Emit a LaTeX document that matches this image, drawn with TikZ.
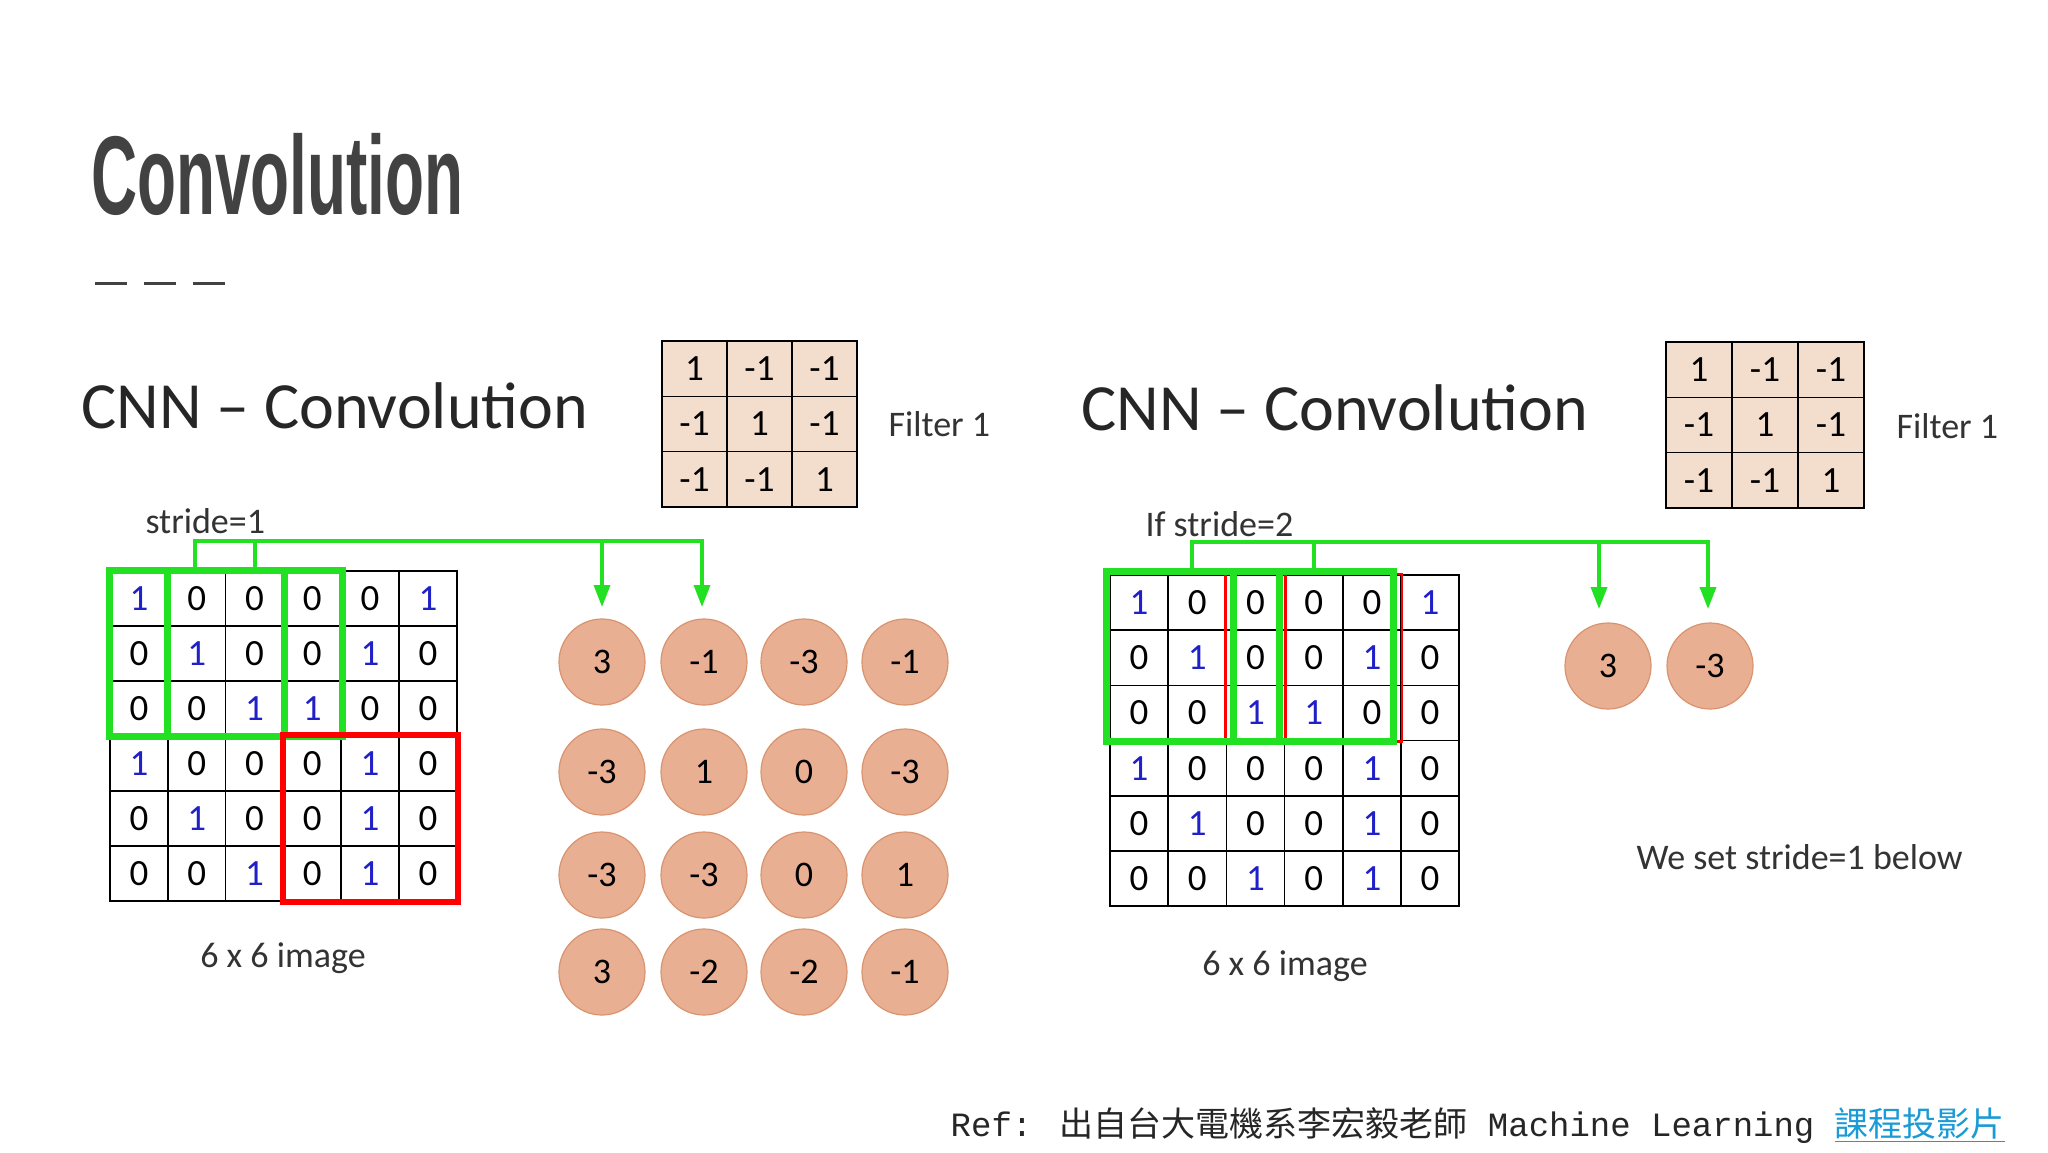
\documentclass[tikz,border=0pt]{standalone}
\usepackage{fontspec}
\setmainfont{Carlito}
\newfontfamily\titlefont{Liberation Sans}
\newfontfamily\monofont{Liberation Mono}
\newfontfamily\cjk{Noto Sans CJK SC}
\usetikzlibrary{arrows.meta}
\definecolor{titlegray}{HTML}{424242}
\definecolor{numblue}{HTML}{2020C8}
\definecolor{peach}{HTML}{F3DDCC}
\definecolor{salmon}{HTML}{E9AF93}
\definecolor{salmonedge}{HTML}{D9946F}
\definecolor{gbright}{HTML}{22E022}
\definecolor{linkblue}{HTML}{1A9AD6}
\tikzset{
  cell/.style={draw=black, line width=1.6pt, minimum width=#1, inner sep=0pt, font=\fontsize{37}{39}\selectfont},
  fcell/.style={cell=#1, fill=peach},
  outc/.style={circle, fill=salmon, draw=salmonedge, line width=1.2pt, minimum size=86pt, inner sep=0pt, font=\fontsize{36}{38}\selectfont},
  gbox/.style={draw=gbright, line width=7pt},
  rbox/.style={draw=red, line width=2.5pt},
  rboxthick/.style={draw=red, line width=6pt},
  gline/.style={draw=gbright, line width=3.5pt},
  garrow/.style={gline, -{Triangle[length=22pt,width=16pt]}},
  lbl/.style={font=\fontsize{36}{38}\selectfont, text=black!80},
  head/.style={font=\fontsize{66}{70}\selectfont, text=black!85}
}
\begin{document}
\begin{tikzpicture}[x=1pt,y=-1pt]
\useasboundingbox (0,0) rectangle (2048,1152);
\fill[white] (0,0) rectangle (2048,1152);
% title
\node[anchor=west, inner sep=0pt, text=titlegray, font=\titlefont\bfseries\fontsize{112}{116}\selectfont, xscale=0.57] (title) at (91,174) {Convolution};
\foreach \xa/\xb [count=\i] in {95/127,144/176,193/225}
  \draw[titlegray, line width=3pt] (\xa,283) -- (\xb,283);
% headings
\node[head, anchor=west, inner sep=0pt] (headL) at (81,406) {CNN – Convolution};
\node[head, anchor=west, inner sep=0pt] (headR) at (1081,408) {CNN – Convolution};
% filters
\foreach \row [count=\r from 0] in {{1,-1,-1},{-1,1,-1},{-1,-1,1}}{
  \foreach \v [count=\c from 0] in \row {
    \node[fcell=65pt, minimum height=55.3pt] (fL-\r-\c) at (662+32.5+65*\c, 341+27.65+55.3*\r) {\v};
    \node[fcell=66pt, minimum height=55.3pt] (fR-\r-\c) at (1666+33+66*\c, 342+27.65+55.3*\r) {\v};
  }
}
\node[lbl, anchor=west] (filtL) at (885,424) {Filter 1};
\node[lbl, anchor=west] (filtR) at (1893,426) {Filter 1};
% images
\foreach \row [count=\r from 0] in {{1,0,0,0,0,1},{0,1,0,0,1,0},{0,0,1,1,0,0},{1,0,0,0,1,0},{0,1,0,0,1,0},{0,0,1,0,1,0}}{
  \foreach \v [count=\c from 0] in \row {
    \ifnum\v=1 \def\tc{numblue}\else\def\tc{black}\fi
    \node[cell=57.8pt, minimum height=55pt, text=\tc] (iL-\r-\c) at (110+28.9+57.8*\c, 571+27.5+55*\r) {\v};
    \node[cell=58.2pt, minimum height=55.2pt, text=\tc] (iR-\r-\c) at (1110+29.1+58.2*\c, 575+27.6+55.2*\r) {\v};
  }
}
% left windows
\draw[rbox] (iL-0-1.north west) rectangle (iL-2-3.south east);
\draw[rbox] (iL-0-0.north west) rectangle (iL-2-0.south east);
\draw[gbox] (iL-0-0.north west) rectangle (iL-2-2.south east);
\draw[gbox] (iL-0-1.north west) rectangle (iL-2-3.south east);
\draw[rboxthick] (iL-3-3.north west) rectangle (iL-5-5.south east);
% right windows
\draw[rbox] (iR-0-0.north west) rectangle (iR-2-2.south east);
\draw[rbox] (iR-0-2.north west) rectangle (iR-2-4.south east);
\draw[gbox] ([xshift=-3pt,yshift=3pt]iR-0-0.north west) rectangle ([xshift=-6pt]iR-2-2.south east);
\draw[gbox] ([xshift=8pt,yshift=3pt]iR-0-2.north west) rectangle ([xshift=-8pt]iR-2-4.south east);
% labels
\node[lbl, anchor=west] (strL) at (142,521) {stride=1};
\node[lbl, anchor=west] (strR) at (1142,524) {If stride=2};
\node[lbl] (capL) at (283,958) {6 x 6 image};
\node[lbl] (capR) at (1285,966) {6 x 6 image};
\node[lbl, anchor=west] (below) at (1633,857) {We set stride=1 below};
% output circles
\foreach \row [count=\r from 0] in {{3,-1,-3,-1},{-3,1,0,-3},{-3,-3,0,1},{3,-2,-2,-1}}{
  \foreach \v [count=\c from 0] in \row {
    \pgfmathsetmacro{\cx}{{602,704,804,905}[\c]}
    \pgfmathsetmacro{\cy}{{662,772,875,972}[\r]}
    \node[outc] (oL-\r-\c) at (\cx,\cy) {\v};
  }
}
\node[outc] (oR-0) at (1608,666) {3};
\node[outc] (oR-1) at (1710,666) {-3};
% connectors left
\coordinate (lw1) at (195,568);
\coordinate (lw2) at (255,568);
\coordinate (lbar) at (195,541);
\coordinate (la1) at (602,607);
\coordinate (la2) at (702,607);
\draw[gline] (lw1) -- (lbar) -- (lbar -| la2) -- ++(0,20);
\draw[gline] (lw2) -- (lw2 |- lbar);
\draw[garrow] (lbar -| la1) -- (la1);
\draw[garrow] (lbar -| la2) -- (la2);
% connectors right
\coordinate (rw1) at (1192,572);
\coordinate (rw2) at (1314,572);
\coordinate (rbar) at (1192,542);
\coordinate (ra1) at (1599,609);
\coordinate (ra2) at (1708,609);
\draw[gline] (rw1) -- (rbar) -- (rbar -| ra2) -- ++(0,20);
\draw[gline] (rw2) -- (rw2 |- rbar);
\draw[garrow] (rbar -| ra1) -- (ra1);
\draw[garrow] (rbar -| ra2) -- (ra2);
% reference
\node[anchor=east, inner sep=0pt, font=\fontsize{34}{36}\selectfont, text=black!85] (ref) at (2005,1126)
  {\monofont Ref: \cjk 出自台大電機系李宏毅老師\monofont{} Machine Learning \textcolor{linkblue}{\cjk\underline{課程投影片}}};
\end{tikzpicture}
\end{document}
